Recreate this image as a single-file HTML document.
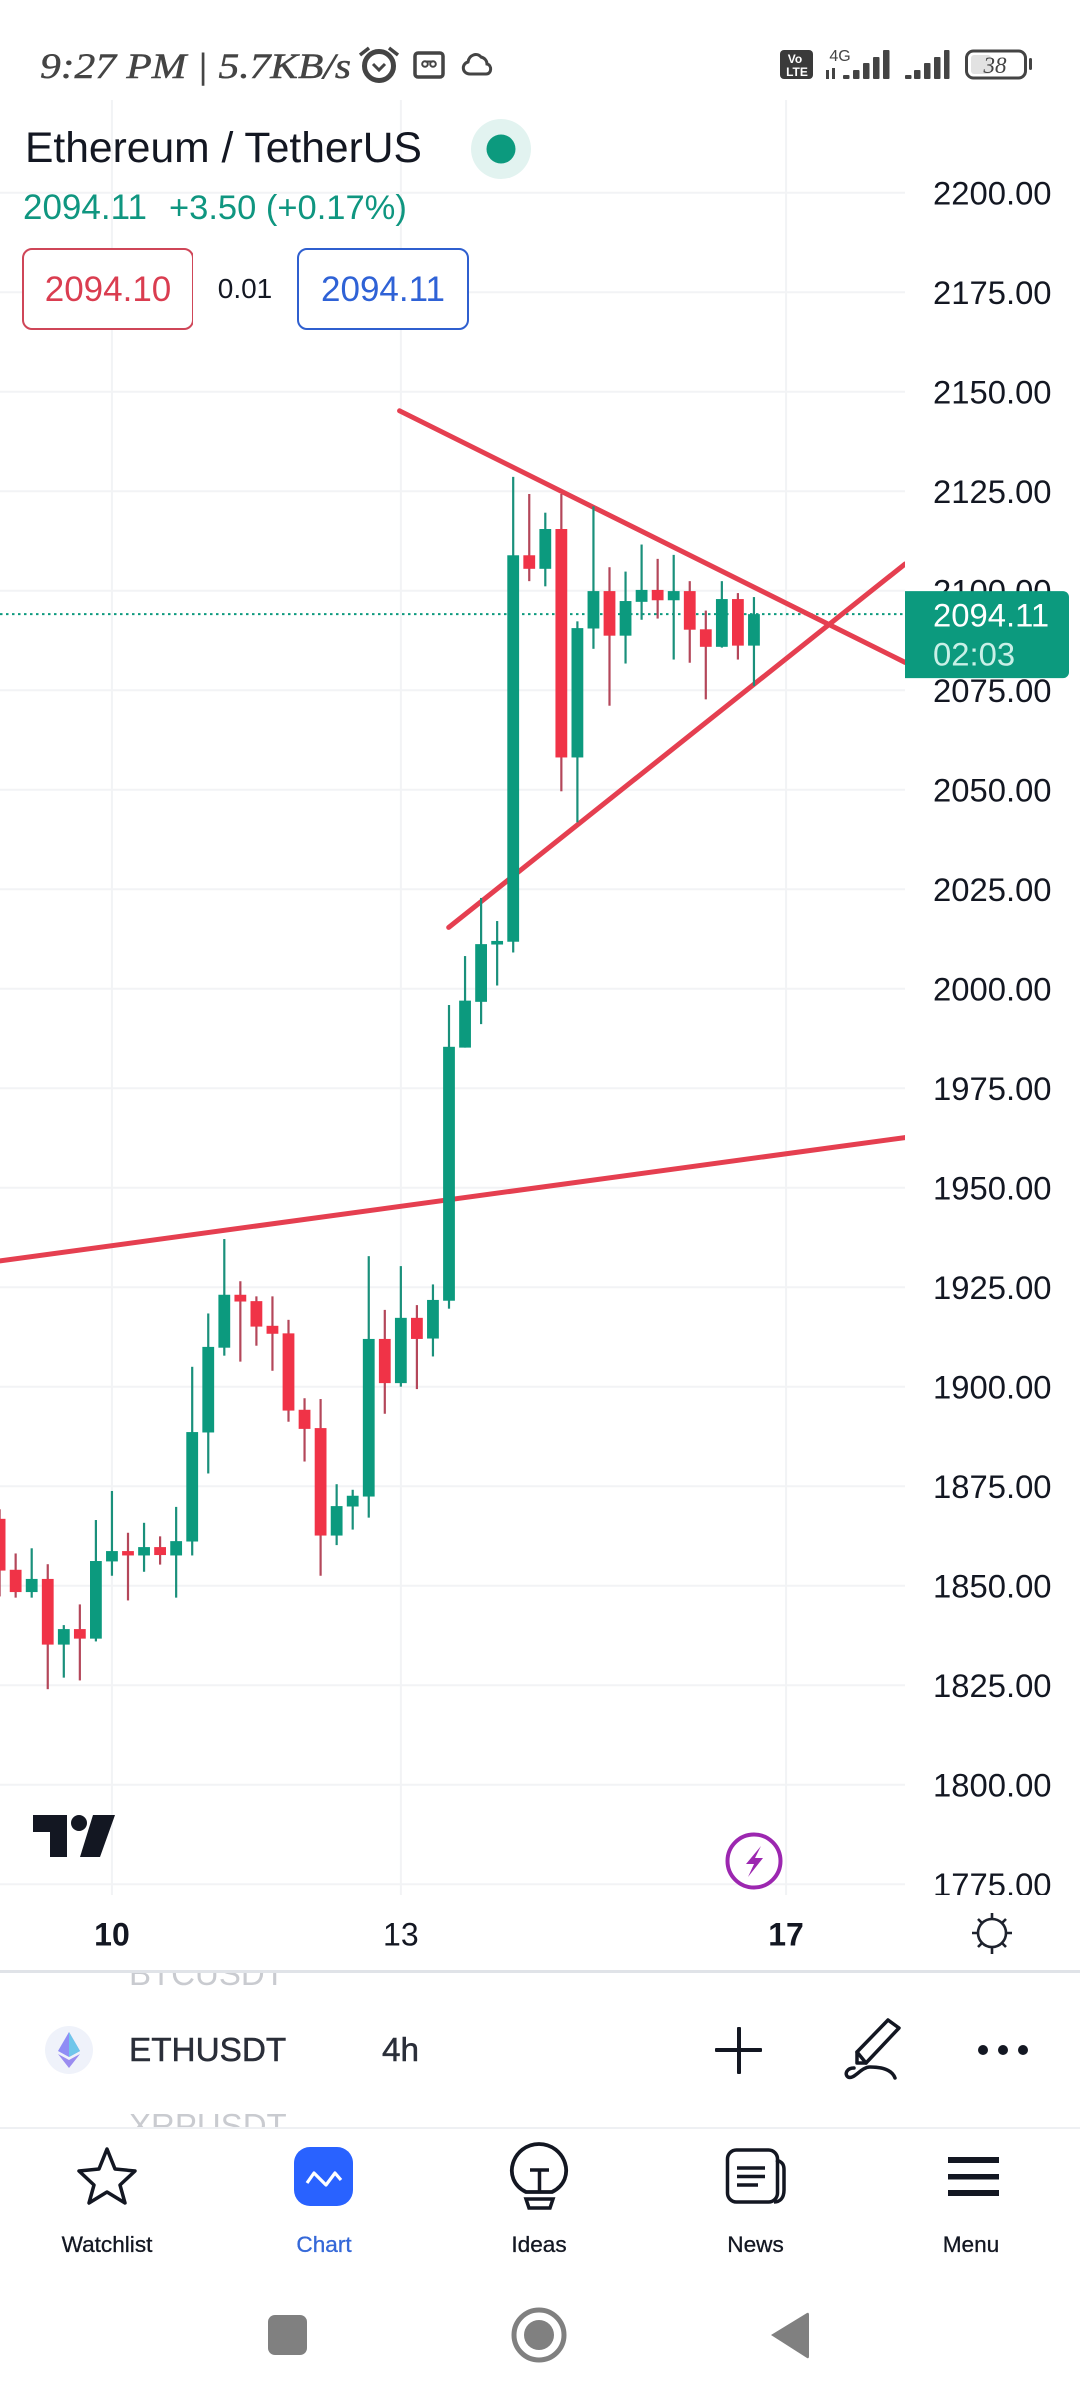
<!DOCTYPE html>
<html lang="en">
<head>
<meta charset="utf-8">
<title>ETHUSDT chart</title>
<style>
html,body{margin:0;padding:0;background:#fff;width:1080px;height:2400px;overflow:hidden}
svg{display:block}
text{font-family:"Liberation Sans",sans-serif}
</style>
</head>
<body>
<svg id="root" xmlns="http://www.w3.org/2000/svg" width="1080" height="2400" viewBox="0 0 1080 2400">
  <defs>
    <clipPath id="plot-clip"><rect x="0" y="100" width="905" height="1795"/></clipPath>
    <clipPath id="axis-clip"><rect x="905" y="100" width="175" height="1795"/></clipPath>
    <clipPath id="row-clip"><rect x="0" y="1973" width="1080" height="154"/></clipPath>
  </defs>
  <rect x="0" y="0" width="1080" height="2400" fill="#ffffff"/>

  <g id="grid" clip-path="url(#plot-clip)"></g>
  <g id="lines-under" clip-path="url(#plot-clip)"></g>
  <g id="candles" clip-path="url(#plot-clip)"></g>
  <g id="axis-labels" clip-path="url(#axis-clip)"></g>
  <g id="price-tag"></g>
  <g id="time-axis"></g>

  <!-- status bar -->
  <g>
    <text x="40" y="78" font-size="36" fill="#444" stroke="#444" stroke-width="0.500" textLength="311" lengthAdjust="spacingAndGlyphs" style="font-family:'Liberation Serif',serif;font-style:italic">9:27 PM | 5.7KB/s</text>
    <g fill="none" stroke="#444" stroke-width="5">
      <circle cx="379" cy="66" r="14.500"/>
      <path d="M369 48l-9 7M389 48l9 7" stroke-width="3.500"/>
      <path d="M373 64l6 6 6-6" stroke-width="3"/>
    </g>
    <g fill="none" stroke="#444">
      <rect x="415" y="53" width="28" height="24" rx="3" stroke-width="3.500"/>
      <circle cx="425" cy="64" r="2.800" stroke-width="2"/><circle cx="433" cy="64" r="2.800" stroke-width="2"/>
      <path d="M425 61.500h8" stroke-width="2"/>
    </g>
    <path fill="none" stroke="#444" stroke-width="3" d="M470 74c-8 0-9-10-2-12 1-7 9-10 13-5 4 1 6 4 6 7 5 1 5 10-1 10z"/>
    <g>
      <rect x="780" y="50" width="33" height="29" rx="4" fill="#3a3a3a"/>
      <text x="795" y="63" font-size="12" font-weight="bold" fill="#fff" text-anchor="middle">Vo</text>
      <text x="797" y="76" font-size="12" font-weight="bold" fill="#fff" text-anchor="middle">LTE</text>
    </g>
    <text x="840" y="61" font-size="16" fill="#444" text-anchor="middle">4G</text>
    <g fill="#444">
      <path d="M826 70h3v9h-3zM832 68h3v11h-3z"/>
      <rect x="843" y="75" width="6.500" height="4" rx="1"/><rect x="853" y="70" width="6.500" height="9" rx="1"/><rect x="863" y="63" width="6.500" height="16" rx="1"/><rect x="873" y="57" width="6.500" height="22" rx="1"/><rect x="883" y="50" width="6.500" height="29" rx="1"/>
    </g>
    <g fill="#444">
      <rect x="905" y="75" width="6.500" height="4" rx="1"/><rect x="914" y="70" width="6.500" height="9" rx="1"/><rect x="924" y="63" width="6.500" height="16" rx="1"/><rect x="934" y="57" width="6.500" height="22" rx="1"/><rect x="944" y="50" width="5.500" height="29" rx="1"/>
    </g>
    <g>
      <rect x="966.500" y="51" width="59" height="27" rx="7" fill="none" stroke="#444" stroke-width="3"/>
      <rect x="971" y="55" width="20" height="19" rx="3" fill="#e2e2e2"/>
      <rect x="1029" y="58" width="3" height="12" rx="1.500" fill="#444"/>
      <text x="995" y="73" font-size="23" fill="#444" text-anchor="middle" style="font-family:'Liberation Serif',serif;font-style:italic">38</text>
    </g>
  </g>

  <!-- header -->
  <text x="25" y="162" font-size="42.600" fill="#131722">Ethereum / TetherUS</text>
  <g>
    <circle cx="501" cy="149" r="30" fill="#e2f3f0"/>
    <circle cx="501" cy="149" r="14.500" fill="#0c9a7e"/>
  </g>
  <text x="23" y="219" font-size="35" fill="#0f9680">2094.11</text>
  <text x="169" y="219" font-size="34.500" fill="#0f9680">+3.50 (+0.17%)</text>
  <g>
    <rect x="23" y="249" width="170" height="80" rx="9" fill="#fff" stroke="#cf4658" stroke-width="2"/>
    <text x="108" y="301" font-size="35" fill="#da3d50" text-anchor="middle">2094.10</text>
  </g>
  <rect x="193" y="249" width="105" height="80" fill="#fff"/>
  <text x="245" y="298" font-size="28" fill="#131722" text-anchor="middle">0.01</text>
  <g>
    <rect x="298" y="249" width="170" height="80" rx="9" fill="#fff" stroke="#2f5fcf" stroke-width="2"/>
    <text x="383" y="301" font-size="35" fill="#2f62d6" text-anchor="middle">2094.11</text>
  </g>

  <!-- chart overlays -->
  <g fill="#131722">
    <path d="M33 1815h34v42h-17v-25h-17z"/>
    <circle cx="79" cy="1823" r="8"/>
    <path d="M93 1815h22l-15 42h-20z"/>
  </g>
  <g>
    <circle cx="754" cy="1861" r="26.500" fill="#fff" stroke="#9c27b0" stroke-width="4"/>
    <path d="M761 1846l-15 18h8l-6 13 15-19h-8z" fill="#9c27b0"/>
  </g>
  <g fill="none" stroke="#1e222d" stroke-width="2.600">
    <circle cx="992" cy="1933" r="14"/>
    <path d="M992 1913v6M992 1947v7M972 1933h6M1006 1933h6M978 1919l4 4M1006 1919l-4 4M978 1947l4-4M1006 1947l-4-4"/>
  </g>

  <rect x="0" y="1970" width="1080" height="3" fill="#e0e3e8"/>

  <!-- symbol row -->
  <g clip-path="url(#row-clip)">
    <text x="129" y="1985" font-size="33" fill="#c9cbd0">BTCUSDT</text>
    <text x="129" y="2137" font-size="33" fill="#c9cbd0">XRPUSDT</text>
  </g>
  <g>
    <circle cx="69" cy="2050" r="24" fill="#eff2fa"/>
    <path d="M69 2032l-11 19 11 6 11-6z" fill="#8f8cf5"/>
    <path d="M69 2032v25l11-6z" fill="#6fc6ea"/>
    <path d="M58 2054l11 14 11-14-11 6z" fill="#9a8cf0"/>
  </g>
  <text x="129" y="2061" font-size="33.300" fill="#2a2e39" stroke="#2a2e39" stroke-width="0.500">ETHUSDT</text>
  <text x="382" y="2061" font-size="33.300" fill="#2a2e39" stroke="#2a2e39" stroke-width="0.500">4h</text>
  <g fill="#131722">
    <rect x="715" y="2048" width="47" height="4" rx="1"/><rect x="737" y="2027" width="4" height="47" rx="1"/>
  </g>
  <g fill="none" stroke="#131722" stroke-width="3.500" stroke-linejoin="round" stroke-linecap="round">
    <path d="M888 2020l11 8-33 35-9 0 0-11z"/>
    <path d="M857 2052l9 11"/>
    <path d="M854 2068c-7 0-10 6-6 9 6 3 13-10 22-10 12 0 22 3 25 11"/>
  </g>
  <g fill="#131722">
    <circle cx="983" cy="2050" r="5"/><circle cx="1003" cy="2050" r="5"/><circle cx="1023" cy="2050" r="5"/>
  </g>
  <rect x="0" y="2127" width="1080" height="2" fill="#eef0f3"/>

  <!-- bottom tabs -->
  <g>
    <path d="M107 2149l8 20 20 2-15 14 5 18-18-11-18 11 5-18-15-14 20-2z" fill="none" stroke="#131722" stroke-width="3.500" stroke-linejoin="round"/>
    <text x="107" y="2252" font-size="22.600" fill="#131722" text-anchor="middle" stroke="#131722" stroke-width="0.300">Watchlist</text>
  </g>
  <g>
    <rect x="294" y="2147" width="59" height="59" rx="16" fill="#2962ff"/>
    <path d="M307 2183l7-10 12 12 9-12 6 7" fill="none" stroke="#fff" stroke-width="3.200" stroke-linejoin="round"/>
    <text x="324" y="2252" font-size="22.600" fill="#3568d8" text-anchor="middle" stroke="#3568d8" stroke-width="0.300">Chart</text>
  </g>
  <g fill="none" stroke="#131722">
    <path d="M526 2192c-26-13-13-48 13-48s39 35 13 48z" stroke-width="3.800"/>
    <path d="M530 2170h19M539.500 2170v21" stroke-width="3.500"/>
    <path d="M526 2199h27l-3 9h-21z" stroke-width="3.500"/>
    <text x="539" y="2252" font-size="22.600" fill="#131722" stroke-width="0.300" text-anchor="middle">Ideas</text>
  </g>
  <g fill="none" stroke="#131722">
    <rect x="727.500" y="2150" width="50" height="52" rx="9" stroke-width="3.500"/>
    <path d="M776 2160c7 2 8 5 8 10v20c0 8-4 12-10 12" stroke-width="3.500"/>
    <path d="M737 2168h28M737 2176.500h28M737 2185h21" stroke-width="3.500"/>
    <text x="755.500" y="2252" font-size="22.600" fill="#131722" stroke-width="0.300" text-anchor="middle">News</text>
  </g>
  <g fill="#131722">
    <rect x="948" y="2157" width="51" height="6"/><rect x="948" y="2174" width="51" height="5.500"/><rect x="948" y="2190" width="51" height="6"/>
    <text x="971" y="2252" font-size="22.600" stroke="#131722" stroke-width="0.300" text-anchor="middle">Menu</text>
  </g>

  <!-- android nav -->
  <rect x="268" y="2315" width="39" height="40" rx="7" fill="#808080"/>
  <g>
    <circle cx="539" cy="2335" r="25" fill="none" stroke="#808080" stroke-width="5"/>
    <circle cx="539" cy="2335" r="15" fill="#808080"/>
  </g>
  <path d="M771 2335l36-22q2-1 2 2v41q0 3-2 2z" fill="#808080"/>

  <script>
    // Price series (oldest to newest)
    const opens = [1866.8,1854.0,1848.4,1851.7,1835.2,1839.1,1836.7,1856.1,1858.7,1857.6,1859.7,1857.6,1861.1,1888.5,1909.8,1923.1,1921.5,1915.3,1913.4,1894.2,1889.6,1862.6,1869.9,1872.4,1912.0,1900.9,1917.3,1912.1,1921.6,1985.2,1996.7,2011.1,2011.8,2108.9,2105.5,2115.5,2058.1,2090.5,2099.9,2088.7,2097.2,2100.2,2097.6,2099.9,2090.3,2085.9,2097.9,2086.2];
    const highs = [1869.2,1858.1,1859.4,1855.4,1840.1,1845.3,1866.5,1873.8,1863.3,1865.8,1862.4,1869.8,1905.0,1918.4,1937.1,1926.5,1922.7,1922.7,1916.8,1897.1,1896.9,1875.5,1874.1,1932.8,1919.3,1930.3,1920.5,1925.7,1995.9,2008.2,2022.8,2017.0,2128.6,2124.3,2119.6,2124.3,2092.3,2121.2,2105.9,2104.8,2111.6,2108.0,2109.0,2102.4,2095.0,2102.4,2099.4,2098.4];
    const lows = [1847.3,1847.0,1847.0,1824.0,1826.9,1826.2,1836.0,1852.5,1846.3,1853.5,1855.3,1847.0,1857.6,1878.2,1907.8,1906.3,1910.3,1904.0,1891.2,1881.2,1852.5,1860.2,1864.1,1867.1,1893.2,1900.0,1899.4,1907.6,1919.6,1985.2,1991.1,2000.8,2009.1,2102.4,2101.1,2049.6,2041.8,2085.4,2071.1,2081.7,2092.7,2093.0,2082.7,2081.9,2072.7,2085.7,2082.7,2076.1];
    const closes = [1853.8,1848.4,1851.7,1835.2,1839.1,1836.7,1856.2,1858.7,1857.6,1859.7,1857.7,1861.2,1888.6,1910.0,1923.1,1921.4,1915.1,1913.3,1894.0,1889.4,1862.6,1870.0,1872.6,1912.0,1900.9,1917.3,1912.0,1921.8,1985.4,1997.0,2011.2,2012.0,2108.9,2105.5,2115.5,2058.1,2090.6,2099.9,2088.7,2097.4,2100.2,2097.6,2099.9,2090.2,2085.9,2097.9,2086.2,2094.11];

    // Axis ticks
    const priceTicks = [2200,2175,2150,2125,2100,2075,2050,2025,2000,1975,1950,1925,1900,1875,1850,1825,1800,1775];
    const timeLabels = ['10','13','17'];
    const timeLabelBars = [7,25,49];
    const timeLabelBold = [true,false,true];

    // Last price / countdown
    const lastPrice = 2094.11;
    const countdown = '02:03';

    // Hand-drawn trendlines, anchored in bar index / price
    const lineStartBars = [24.92,27.98,0.02];
    const lineStartPrices = [2145.2,2015.4,1931.6];
    const lineEndBars = [56.41,56.41,56.41];
    const lineEndPrices = [2082.0,2106.7,1962.6];

    const NS = 'http://www.w3.org/2000/svg';
    const UP = '#0c9a7e', DOWN = '#f03347', UP_WICK = '#1a907b', DOWN_WICK = '#b4475a';
    const xScale = i => -0.4 + 16.05 * i;
    const yScale = p => 192.7 + (2200 - p) * 3.98;
    const make = (parent, tag, attrs) => {
      const el = document.createElementNS(NS, tag);
      for (const k in attrs) el.setAttribute(k, attrs[k]);
      parent.appendChild(el);
      return el;
    };

    const grid = document.getElementById('grid');
    priceTicks.forEach(p => {
      const el = make(grid, 'line', {x1:0, x2:905, y1:yScale(p), y2:yScale(p), stroke:'#f2f3f5', 'stroke-width':2});
      
      
    });
    timeLabelBars.forEach(b => {
      const el = make(grid, 'line', {x1:xScale(b), x2:xScale(b), y1:100, y2:1895, stroke:'#f2f3f5', 'stroke-width':2});
      
      
    });
    const priceLine = make(grid, 'line', {x1:0, x2:905, y1:yScale(lastPrice), y2:yScale(lastPrice), stroke:UP, 'stroke-width':2, 'stroke-dasharray':'2.5 3.5'});
    
    

    const linesG = document.getElementById('lines-under');
    lineStartBars.forEach((b, i) => {
      const el = make(linesG, 'line', {x1:xScale(b), y1:yScale(lineStartPrices[i]), x2:xScale(lineEndBars[i]), y2:yScale(lineEndPrices[i]), stroke:'#e53f50', 'stroke-width':5, 'stroke-linecap':'round'});
      
      
    });

    const candlesG = document.getElementById('candles');
    closes.forEach((c, i) => {
      const up = c >= opens[i];
      const x = xScale(i);
      const wick = make(candlesG, 'rect', {x:x - 1.1, width:2.2, y:yScale(highs[i]), height:Math.max(1, yScale(lows[i]) - yScale(highs[i])), fill: up ? UP_WICK : DOWN_WICK});
      
      
      const top = yScale(Math.max(opens[i], c));
      const bottom = yScale(Math.min(opens[i], c));
      const body = make(candlesG, 'rect', {x:x - 5.9, width:11.8, y:top, height:Math.max(2, bottom - top), fill: up ? UP : DOWN});
      
      
    });

    const axisG = document.getElementById('axis-labels');
    priceTicks.forEach(p => {
      const t = make(axisG, 'text', {x:933, y:yScale(p) + 11.7, 'font-size':32.8, fill:'#131722'});
      t.textContent = p.toFixed(2);
      
      
    });

    const tagG = document.getElementById('price-tag');
    const tagY = yScale(lastPrice);
    make(tagG, 'path', {d:`M905 ${tagY - 23}H1063a6 6 0 0 1 6 6V${tagY + 58}a6 6 0 0 1 -6 6H905z`, fill:'#0c9a7e'});
    const tagPrice = make(tagG, 'text', {x:933, y:tagY + 12.5, 'font-size':32.8, fill:'#ffffff'});
    tagPrice.textContent = lastPrice.toFixed(2);
    
    
    const tagTime = make(tagG, 'text', {x:933, y:tagY + 51.5, 'font-size':32.8, fill:'#c9f0e7'});
    tagTime.textContent = countdown;
    
    

    const timeG = document.getElementById('time-axis');
    timeLabels.forEach((label, i) => {
      const t = make(timeG, 'text', {x:xScale(timeLabelBars[i]), y:1945.5, 'font-size':32, 'text-anchor':'middle', fill:'#131722', 'font-weight': timeLabelBold[i] ? 'bold' : 'normal'});
      t.textContent = label;
      
      
    });
  </script>
</svg>
</body>
</html>
